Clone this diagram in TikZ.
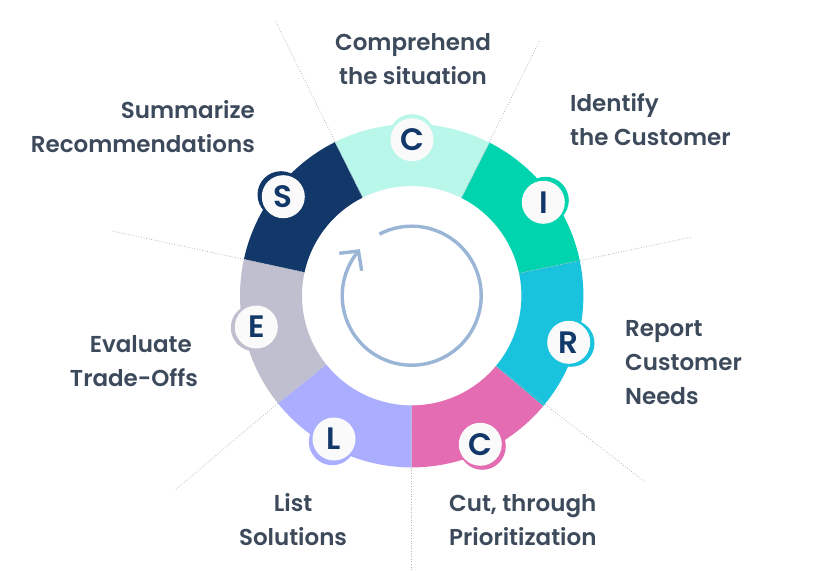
\documentclass[tikz,border=0pt]{standalone}
\usepackage{fontspec}
\setmainfont{Poppins}
\newfontfamily\labfont{Poppins SemiBold}
\newfontfamily\letfont{Poppins SemiBold}
\definecolor{txt}{HTML}{3D4A5C}
\definecolor{navy}{HTML}{123769}
\definecolor{segC}{HTML}{B9F7EA}
\definecolor{segI}{HTML}{00D4AE}
\definecolor{segR}{HTML}{19C3DD}
\definecolor{segK}{HTML}{E36CB2}
\definecolor{segL}{HTML}{ABAEFF}
\definecolor{segE}{HTML}{C0BFCF}
\definecolor{cyc}{HTML}{9AB5D5}
\definecolor{dots}{HTML}{B4B8BE}
\newcommand{\Cx}{411.7}
\newcommand{\Cy}{274.3}
\newcommand{\Ro}{171.7}
\newcommand{\Ri}{109.7}
\newcommand{\seg}[3]{\fill[#3] ([shift={(#1:\Ro)}]c) arc[start angle=#1,end angle=#2,radius=\Ro] -- ([shift={(#2:\Ri)}]c) arc[start angle=#2,end angle=#1,radius=\Ri] -- cycle;}
\tikzset{
  lab/.style={font=\labfont\fontsize{23}{34}\selectfont,text=txt,inner sep=0pt},
  disc/.style={circle,fill=#1,minimum size=47pt,inner sep=0pt},
  let/.style={circle,fill=white!98!black,minimum size=43pt,inner sep=0pt,text=navy,font=\letfont\fontsize{31}{31}\selectfont},
  sep/.style={draw=dots,line width=0.8pt,dash pattern=on 0.8pt off 1.8pt},
  cycline/.style={draw=cyc,line width=3.4pt}
}
\begin{document}
\begin{tikzpicture}[x=1pt,y=1pt]
\useasboundingbox (0,0) rectangle (826,570);
\fill[white] (0,0) rectangle (826,570);
\coordinate (c) at (\Cx,\Cy);
\seg{63}{116.6}{segC}
\seg{11.8}{63}{segI}
\seg{-40}{11.8}{segR}
\seg{-90}{-40}{segK}
\seg{-141.2}{-90}{segL}
\seg{-192.3}{-141.2}{segE}
\seg{-243.4}{-192.3}{navy}
% separators
\coordinate (a1) at ([shift={(116.6:\Ri)}]c);
\coordinate (b1) at (275,550);
\coordinate (a2) at ([shift={(63:\Ri)}]c);
\coordinate (b2) at (540,530);
\coordinate (a3) at ([shift={(11.8:\Ri)}]c);
\coordinate (b3) at (692,333);
\coordinate (a4) at ([shift={(-40:\Ri)}]c);
\coordinate (b4) at (645,88);
\coordinate (a5) at ([shift={(-90:\Ri)}]c);
\coordinate (b5) at (411.7,0);
\coordinate (a6) at ([shift={(-141.2:\Ro)}]c);
\coordinate (b6) at (175,80);
\coordinate (a7) at ([shift={(167.7:\Ri)}]c);
\coordinate (b7) at (112,339);
\foreach \i in {1,...,7} {\draw[sep] (a\i) -- (b\i);}
% cycle arrow
\draw[cycline] ([shift={(117.6:69.5)}]c) arc[start angle=117.6,end angle=-220,radius=69.5] coordinate (tip);
\coordinate (h1) at (339.3,316.7);
\coordinate (h2) at (361.7,299.3);
\draw[cycline] (h1) -- (tip) -- (h2);
% badges
\node[disc=segC] (d1) at (412,432.3) {};
\node[let] (n1) at (412,430.3) {C};
\node[disc=segI] (d2) at (545.3,369.7) {};
\node[let] (n2) at (543.3,367.7) {I};
\node[disc=segR] (d3) at (571,226.7) {};
\node[let] (n3) at (568.7,227.7) {R};
\node[disc=segK] (d4) at (482.3,123.7) {};
\node[let] (n4) at (480.3,125.7) {C};
\node[disc=segL] (d5) at (332.3,128.3) {};
\node[let] (n5) at (334,131) {L};
\node[disc=segE] (d6) at (254.3,242.3) {};
\node[let] (n6) at (256.3,243) {E};
\node[disc=navy] (d7) at (281,375.3) {};
\node[let] (n7) at (283.3,373.3) {S};
% labels
\node[lab,align=center,anchor=north] (t1) at (413,537) {Comprehend\\the situation};
\node[lab,align=left,anchor=north west] (t2) at (570,477) {Identify\\the Customer};
\node[lab,align=left,anchor=north west] (t3) at (625,250) {Report\\Customer\\Needs};
\node[lab,align=left,anchor=north west] (t4) at (449,76) {Cut, through\\Prioritization};
\node[lab,align=center,anchor=north] (t5) at (293,77) {List\\Solutions};
\node[lab,align=right,anchor=north east] (t6) at (198,235) {Evaluate\hspace*{6pt}\\Trade-Offs};
\node[lab,align=right,anchor=north east] (t7) at (255,470) {Summarize\\Recommendations};
\end{tikzpicture}
\end{document}
